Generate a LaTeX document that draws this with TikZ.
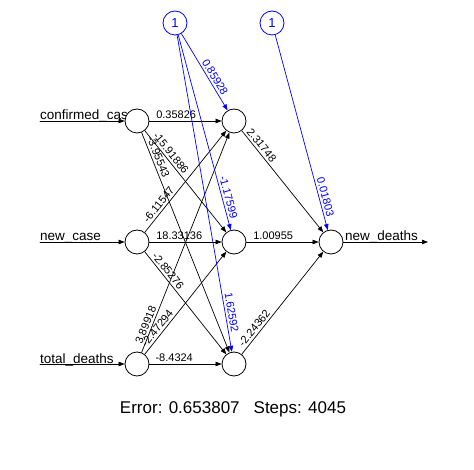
\documentclass[tikz,border=0pt]{standalone}
\usepackage{fontspec}
\setmainfont{Liberation Sans}
\usetikzlibrary{arrows.meta}
\definecolor{BiasBlue}{HTML}{0000FF}

\begin{document}
\begin{tikzpicture}[x=1pt,y=-1pt, line cap=round, line join=round, >={Triangle[length=6pt,width=4.5pt]},
  neuron/.style={circle, draw=black, fill=white, line width=0.8pt, minimum size=24pt, inner sep=0pt},
  biasnode/.style={neuron, draw=BiasBlue, text=BiasBlue, font=\fontsize{13}{15}\selectfont},
  edge/.style={->, black, line width=0.7pt},
  biasedge/.style={->, BiasBlue, line width=0.7pt},
  wlabel/.style={sloped, anchor=south west, inner sep=2.2pt, font=\fontsize{11}{13}\selectfont},
  blabel/.style={wlabel, anchor=south east, text=BiasBlue},
  varname/.style={anchor=base west, inner sep=0pt, font=\fontsize{13.5}{15}\selectfont}]

\useasboundingbox (0,0) rectangle (474,470);

% variable names (the neurons cover their ends)
\node[varname] (conftxt) at (40,120) {confirmed\_cases};
\node[varname] (newtxt) at (40,241) {new\_case};
\node[varname] (totaltxt) at (40,363) {total\_deaths};
\node[varname] (deathtxt) at (345,241) {new\_deaths};

% input layer
\node[neuron] (in1) at (137,121) {};
\node[neuron] (in2) at (137,242) {};
\node[neuron] (in3) at (137,364) {};
% hidden layer
\node[neuron] (h1) at (234,121) {};
\node[neuron] (h2) at (234,242) {};
\node[neuron] (h3) at (234,364) {};
% output
\node[neuron] (out) at (331,242) {};
% intercepts
\node[biasnode] (bias1) at (175,23) {1};
\node[biasnode] (bias2) at (272,23) {1};

% in and out arrows
\coordinate (start1) at (40,121);
\coordinate (start2) at (40,242);
\coordinate (start3) at (40,364);
\coordinate (outend) at (428,242);
\draw[edge] (start1) -- (in1);
\draw[edge] (start2) -- (in2);
\draw[edge] (start3) -- (in3);
\draw[edge] (out) -- (outend);

% weights input -> hidden
\draw[edge] (in1) -- node[wlabel, pos=0.06] {0.35826} (h1);
\draw[edge] (in1) -- node[wlabel, pos=0.05] {-15.91886} (h2);
\draw[edge] (in1) -- node[wlabel, pos=0.02] {-3.95543} (h3);
\draw[edge] (in2) -- node[wlabel, pos=0.05] {-6.11547} (h1);
\draw[edge] (in2) -- node[wlabel, pos=0.06] {18.33136} (h2);
\draw[edge] (in2) -- node[wlabel, pos=0.04] {-2.85276} (h3);
\draw[edge] (in3) -- node[wlabel, pos=0.02] {3.89918} (h1);
\draw[edge] (in3) -- node[wlabel, pos=0.03] {-2.47294} (h2);
\draw[edge] (in3) -- node[wlabel, pos=0.05] {-8.4324} (h3);

% weights hidden -> output
\draw[edge] (h1) -- node[wlabel, pos=0.01] {2.31748} (out);
\draw[edge] (h2) -- node[wlabel, pos=0.06] {1.00955} (out);
\draw[edge] (h3) -- node[wlabel, pos=0.03] {-2.24362} (out);

% intercept weights
\draw[biasedge] (bias1) -- node[blabel, pos=0.86] {0.85928} (h1);
\draw[biasedge] (bias1) -- node[blabel, pos=0.96] {-1.17599} (h2);
\draw[biasedge] (bias1) -- node[blabel, pos=0.95] {1.62592} (h3);
\draw[biasedge] (bias2) -- node[blabel, pos=0.95] {0.01803} (out);

% fit summary
\node[anchor=base, font=\fontsize{17}{20}\selectfont] (fittxt) at (233,413) {Error: 0.653807\hspace{14pt}Steps: 4045};

\end{tikzpicture}
\end{document}
